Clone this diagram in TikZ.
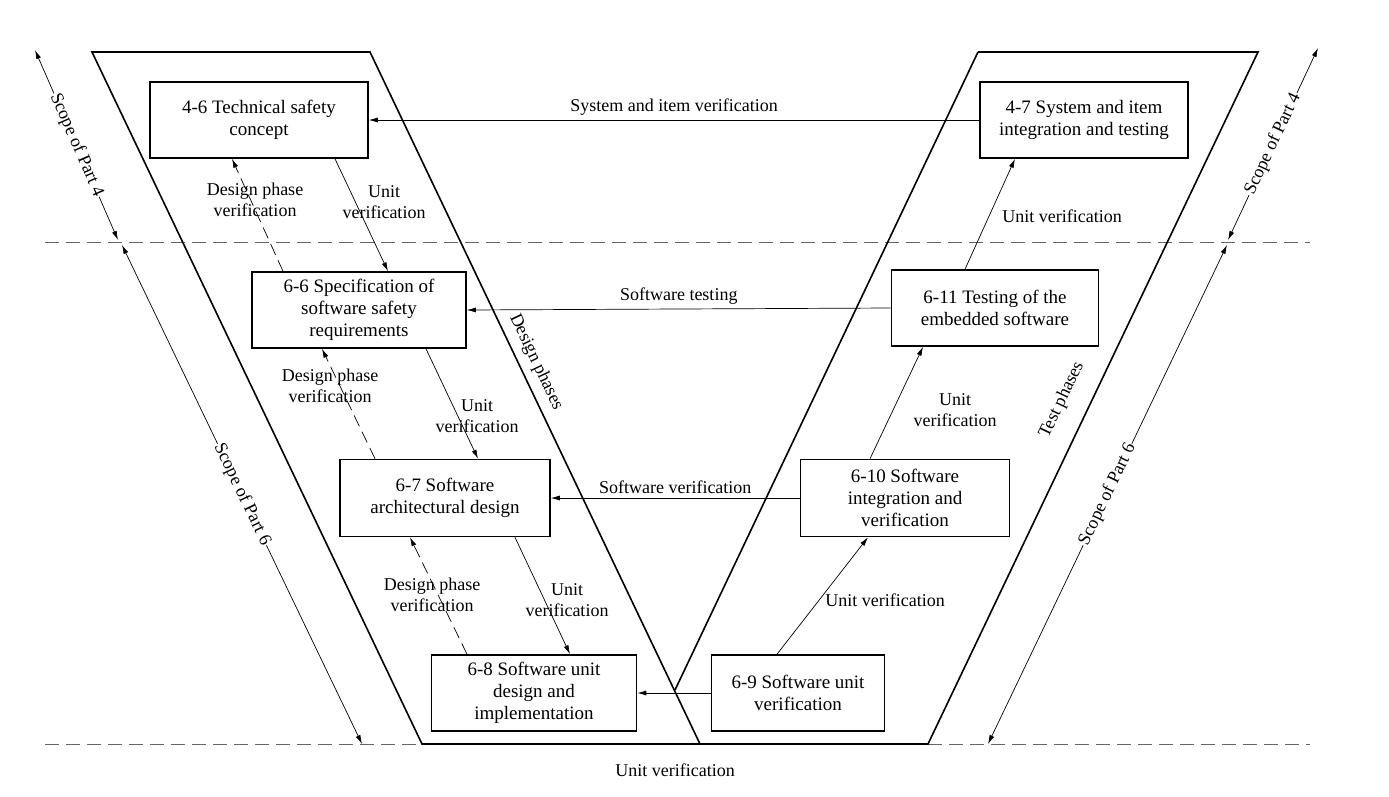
\documentclass[tikz,border=0pt]{standalone}
\usepackage{fontspec}
\setmainfont{Liberation Serif}
\usetikzlibrary{arrows.meta}
\begin{document}
\begin{tikzpicture}[x=1pt,y=-1pt,
  box/.style={draw,line width=1.6pt,align=center,inner sep=0pt,font=\fontsize{19}{22}\selectfont},
  lbl/.style={align=center,font=\fontsize{18}{21}\selectfont,inner sep=1pt},
  arr/.style={line width=0.7pt,-{Latex[length=9pt,width=5pt]}},
  darr/.style={arr,dash pattern=on 12pt off 6pt},
  vline/.style={line width=1.6pt},
  sep/.style={line width=0.8pt,gray!80!black,dash pattern=on 14pt off 7pt},
  scope/.style={line width=0.7pt,{Latex[length=9pt,width=5pt]}-{Latex[length=9pt,width=5pt]}}]
\useasboundingbox (0,0) rectangle (1389,796);
% separators
\draw[sep] (45,242) -- (1310,242);
\draw[sep] (45,744) -- (422,744);
\draw[sep] (928,744) -- (1310,744);
% V shapes
\draw[vline] (92,52) -- (370,52) -- (700,744) -- (422,744) -- cycle;
\draw[vline] (978,52) -- (1258,52) -- (928,744) -- (700,744);
\coordinate (vmeet) at (675,690);
\draw[vline] (978,52) -- (vmeet);
% boxes
\node[box,minimum width=218pt,minimum height=76pt] (b46) at (259,120) {4-6 Technical safety\\concept};
\node[box,minimum width=214pt,minimum height=76pt] (b66) at (359,310) {6-6 Specification of\\software safety\\requirements};
\node[box,minimum width=210pt,minimum height=77pt] (b67) at (445,498) {6-7 Software\\architectural design};
\node[box,minimum width=205pt,minimum height=76pt] (b68) at (534,693) {6-8 Software unit\\design and\\implementation};
\node[box,minimum width=173pt,minimum height=76pt] (b69) at (798,693) {6-9 Software unit\\verification};
\node[box,minimum width=209pt,minimum height=77pt] (b610) at (905,498) {6-10 Software\\integration and\\verification};
\node[box,minimum width=207pt,minimum height=76pt] (b611) at (995,308) {6-11 Testing of the\\embedded software};
\node[box,minimum width=208pt,minimum height=76pt] (b47) at (1084,120) {4-7 System and item\\integration and testing};
% horizontal arrows
\draw[arr] (b47.west) -- (b46.east) node[lbl,pos=0.5,above=3pt] {System and item verification};
\draw[arr] (b611.west) -- (b66.east) node[lbl,pos=0.5,above=3pt] {Software testing};
\draw[arr] (b610.west) -- (b67.east) node[lbl,pos=0.5,above=3pt] {Software verification};
\draw[arr] (b69.west) -- (b68.east);
% left descending unit verification
\draw[arr] ([xshift=76pt]b46.south) -- ([xshift=29pt]b66.north);
\node[lbl] (u1) at (384,202) {Unit\\verification};
\draw[darr] ([xshift=-76pt]b66.north) -- ([xshift=-27pt]b46.south);
\node[lbl] (d1) at (255,200) {Design phase\\verification};
\draw[arr] ([xshift=67pt]b66.south) -- ([xshift=33pt]b67.north);
\node[lbl] (u2) at (477,416) {Unit\\verification};
\draw[darr] ([xshift=-70pt]b67.north) -- ([xshift=-37pt]b66.south);
\node[lbl] (d2) at (330,386) {Design phase\\verification};
\draw[arr] ([xshift=70pt]b67.south) -- ([xshift=36pt]b68.north);
\node[lbl] (u3) at (567,600) {Unit\\verification};
\draw[darr] ([xshift=-67pt]b68.north) -- ([xshift=-35pt]b67.south);
\node[lbl] (d3) at (432,595) {Design phase\\verification};
% right ascending unit verification
\draw[arr] ([xshift=-21pt]b69.north) -- ([xshift=-37pt]b610.south);
\node[lbl] (u4) at (885,600) {Unit verification};
\draw[arr] ([xshift=-35pt]b610.north) -- ([xshift=-72pt]b611.south);
\node[lbl] (u5) at (955,410) {Unit\\verification};
\draw[arr] ([xshift=-30pt]b611.north) -- ([xshift=-69pt]b47.south);
\node[lbl] (u6) at (1062,216) {Unit verification};
% phases labels
\node[lbl,rotate=-64.5] (dp) at (536,362) {Design phases};
\node[lbl,rotate=64.5] (tp) at (1062,400) {Test phases};
\node[lbl] (uv) at (675,770) {Unit verification};
% scopes
\coordinate (s1a) at (35,50); \coordinate (s1b) at (118,240);
\coordinate (s2a) at (122,245); \coordinate (s2b) at (362,744);
\coordinate (s3a) at (1318,48); \coordinate (s3b) at (1228,240);
\coordinate (s4a) at (1227,245); \coordinate (s4b) at (988,744);
\draw[scope] (s1a) -- (s1b) node[lbl,midway,sloped,fill=white] {Scope of Part 4};
\draw[scope] (s2a) -- (s2b) node[lbl,midway,sloped,fill=white] {Scope of Part 6};
\draw[scope] (s3b) -- (s3a) node[lbl,midway,sloped,fill=white] {Scope of Part 4};
\draw[scope] (s4b) -- (s4a) node[lbl,midway,sloped,fill=white] {Scope of Part 6};
\end{tikzpicture}
\end{document}
